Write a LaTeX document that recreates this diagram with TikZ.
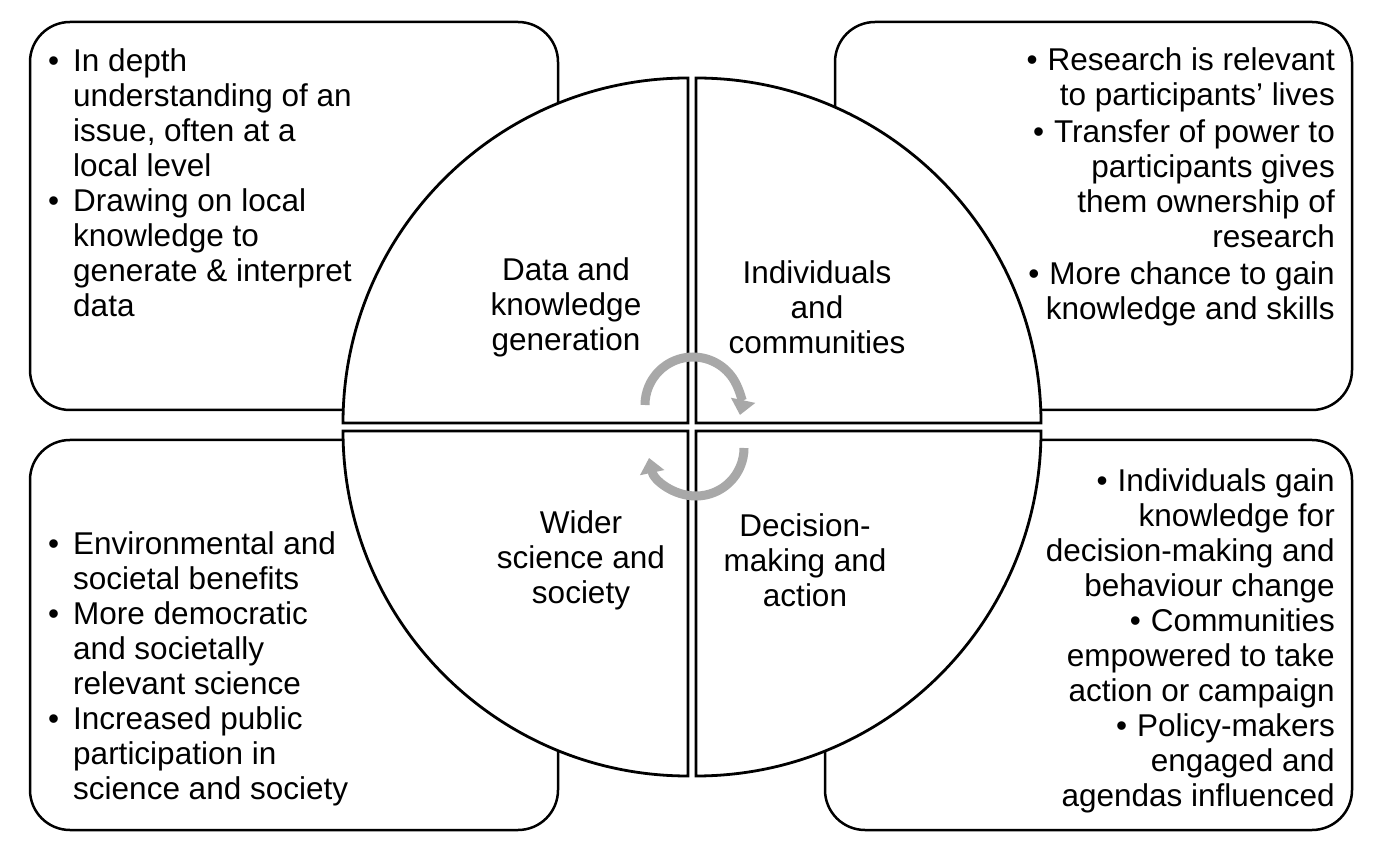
\documentclass[tikz,border=0pt]{standalone}
\usepackage{fontspec}
\setmainfont{Liberation Sans}
\usetikzlibrary{arrows.meta}
\definecolor{arr}{RGB}{168,168,168}
\begin{document}
\begin{tikzpicture}[x=1pt,y=1pt,
  box/.style={draw=black,line width=2.5pt,rounded corners=40pt},
  sector/.style={draw=black,fill=white,line width=2.8pt},
  txt/.style={font=\fontsize{31.5}{35}\selectfont,inner sep=0pt},
  lbl/.style={font=\fontsize{31.5}{35}\selectfont,align=center,inner sep=0pt},
  cyc/.style={draw=arr,line width=9pt,-{Triangle[width=24pt,length=15pt]}}]
\useasboundingbox (0,0) rectangle (1380,862);
\fill[white] (0,0) rectangle (1380,862);
% boxes
\draw[box] (30,452) rectangle (558,840);
\draw[box] (835,452) rectangle (1352,840);
\draw[box] (30,32) rectangle (558,422);
\draw[box] (825,32) rectangle (1352,422);
% sectors
\draw[sector] (688,439) -- (343,439) arc[start angle=180,end angle=90,radius=345] -- cycle;
\draw[sector] (696,439) -- (696,784) arc[start angle=90,end angle=0,radius=345] -- cycle;
\draw[sector] (688,431) -- (688,86) arc[start angle=270,end angle=180,radius=345] -- cycle;
\draw[sector] (696,431) -- (1041,431) arc[start angle=0,end angle=-90,radius=345] -- cycle;
% cycle arrows
\coordinate (A1) at (693,457);
\coordinate (A2) at (696,414);
\draw[cyc] ([shift={(180:48)}]A1) arc[start angle=180,end angle=-12,radius=48];
\draw[cyc] ([shift={(0:48)}]A2) arc[start angle=0,end angle=-168,radius=48];
% sector labels
\node[lbl] (l1) at (566,555) {Data and\\knowledge\\generation};
\node[lbl] (l2) at (817,555) {Individuals\\and\\communities};
\node[lbl] (l3) at (581,302) {Wider\\science and\\society};
\node[lbl] (l4) at (805,302) {Decision-\\making and\\action};
% box texts
\node[txt,anchor=north west] (t1) at (48,815) {\begin{tabular}{@{}l@{\hspace{14pt}}l@{}}
•&In depth\\ &understanding of an\\ &issue, often at a\\ &local level\\
•&Drawing on local\\ &knowledge to\\ &generate \& interpret\\ &data\end{tabular}};
\node[txt,anchor=north east,align=right] (t2) at (1335,815) {•\hspace{10pt}Research is relevant\\to participants’ lives\\[2pt]
•\hspace{10pt}Transfer of power to\\participants gives\\them ownership of\\research\\[2pt]
•\hspace{10pt}More chance to gain\\knowledge and skills};
\node[txt,anchor=west] (t3) at (48,192) {\begin{tabular}{@{}l@{\hspace{14pt}}l@{}}
•&Environmental and\\ &societal benefits\\
•&More democratic\\ &and societally\\ &relevant science\\
•&Increased public\\ &participation in\\ &science and society\end{tabular}};
\node[txt,anchor=north east,align=right] (t4) at (1335,394) {•\hspace{10pt}Individuals gain\\knowledge for\\decision-making and\\behaviour change\\
•\hspace{10pt}Communities\\empowered to take\\action or campaign\\
•\hspace{10pt}Policy-makers\\engaged and\\agendas influenced};
\end{tikzpicture}
\end{document}
